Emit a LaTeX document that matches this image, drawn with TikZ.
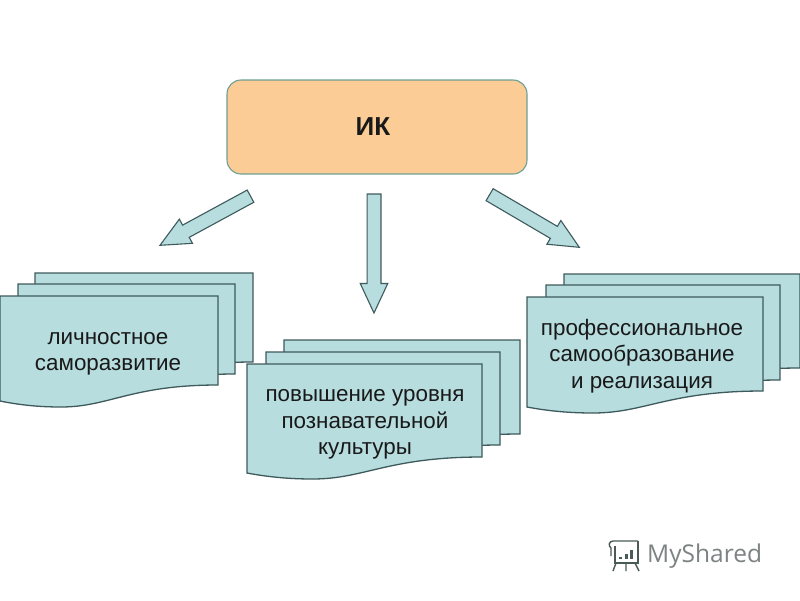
\documentclass[tikz,border=0pt]{standalone}
\usepackage{fontspec}
\usepackage{tikz}
\usetikzlibrary{shapes.arrows}
\setmainfont{Liberation Sans}
\newfontfamily\logofont{Open Sans}
\definecolor{sheetblue}{HTML}{B7DDDF}
\definecolor{edgedark}{HTML}{3E5A5C}
\definecolor{boxorange}{HTML}{FBCC95}
\definecolor{boxedge}{HTML}{6E9F96}
\definecolor{logogray}{HTML}{7D8283}
\definecolor{logodark}{HTML}{4A5A56}
\tikzset{
    sheetstyle/.style={draw=edgedark, fill=sheetblue, line width=1.3pt},
    blockarrow/.style={single arrow, draw=edgedark, fill=sheetblue, line width=1.1pt, inner sep=6.4pt, outer sep=0pt,
        minimum width=27pt, single arrow head extend=6.8pt, single arrow tip angle=50, minimum height=#1, anchor=tip},
    sheettext/.style={align=center, font=\fontsize{22.4}{26.5}\selectfont, text=black!90},
    logoline/.style={draw=logodark, line width=1.4pt}
}
\begin{document}
\begin{tikzpicture}[x=1pt, y=-1pt]
        \useasboundingbox (0,0) rectangle (800,600);
        \fill[white] (0,0) rectangle (800,600);
        \node[draw=boxedge, fill=boxorange, line width=1.1pt, rounded corners=14pt,
            minimum width=300pt, minimum height=94pt] (ik) at (377,127) {};
        \node[font=\fontsize{26}{28}\selectfont\bfseries, text=black!90] (iklabel) at (373,127) {ИК};
        \node[blockarrow=103pt, rotate=208.5] (arrowleft) at (160,245.3) {};
        \node[blockarrow=119pt, rotate=270] (arrowmid) at (374,313) {};
        \node[blockarrow=104pt, rotate=-30.4] (arrowright) at (579.3,247.3) {};
        % three stacks of sheets, back one first
        \foreach \x/\y/\w/\h in {35/273/218/89, 18/284/217/90, 0/296/218/89,
                                 284/340/236/94, 266/352/234/93, 247/364/235/93,
                                 564/274/236/94, 546/285/234/95, 527/297/236/94} {
            \pgfmathsetmacro{\xright}{\x + \w}
            \pgfmathsetmacro{\ybottom}{\y + \h}
            \pgfmathsetmacro{\yleft}{\ybottom + 16}
            \pgfmathsetmacro{\ylow}{\ybottom + 22}
            \pgfmathsetmacro{\xone}{\x + 0.09*\w}
            \pgfmathsetmacro{\xtwo}{\x + 0.18*\w}
            \pgfmathsetmacro{\xlow}{\x + 0.28*\w}
            \pgfmathsetmacro{\xthree}{\x + 0.50*\w}
            \pgfmathsetmacro{\xfour}{\x + 0.60*\w}
            \draw[sheetstyle] (\x,\y) -- (\xright,\y) -- (\xright,\ybottom)
                .. controls (\xfour,\ybottom) and (\xthree,\ylow) .. (\xlow,\ylow)
                .. controls (\xtwo,\ylow) and (\xone,\yleft+4) .. (\x,\yleft) -- cycle;
        }
        \node[sheettext] (selfdev) at (108,354) {личностное\\ саморазвитие};
        \node[sheettext] (culture) at (365,424.5) {повышение уровня\\ познавательной\\ культуры};
        \node[sheettext] (profession) at (642,356) {профессиональное\\ самообразование\\ и реализация};
        % logo
        \node[font=\fontsize{24.5}{26}\selectfont\logofont, text=logogray, anchor=west, inner sep=0pt] (logotext) at (647,556) {MyShared};
        \draw[logoline] (613,541) -- (638,541) (613,541) .. controls (609,541) and (608,546) .. (611,548) -- (611,556);
        \draw[logoline] (615,546) -- (615,563) -- (638,563) -- (638,541);
        \draw[logoline] (616,563) -- (613,571) (626,563) -- (626,571) (635,563) -- (639,571);
        \foreach \i/\h in {0/2, 1/5, 2/9} {
            \pgfmathsetmacro{\xbar}{619 + 5.5*\i}
            \fill[logodark] (\xbar,559) rectangle (\xbar+3.2,559-\h);
        }
    \end{tikzpicture}
\end{document}
